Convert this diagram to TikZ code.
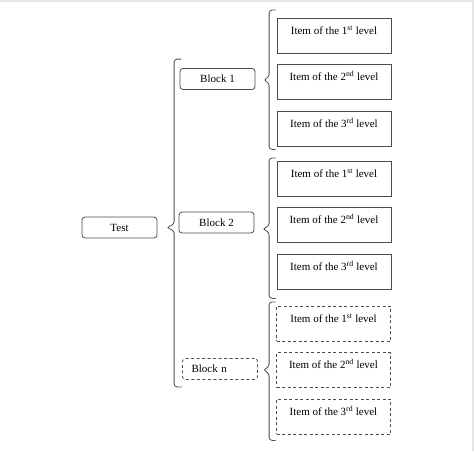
\documentclass[tikz,border=0pt]{standalone}
\usepackage{fontspec}
\setmainfont{Liberation Serif}
\usetikzlibrary{positioning,calc}

\begin{document}
\begin{tikzpicture}[x=1pt, y=-1pt,
  block/.style={draw=black!70, line width=0.8pt, rounded corners=3pt, minimum width=75pt, minimum height=21pt, inner sep=0pt, font=\fontsize{11}{13}\selectfont},
  dblock/.style={block, dash pattern=on 3pt off 2.5pt, align=left, text width=57pt, inner xsep=9pt},
  item/.style={draw=black!70, line width=0.8pt, minimum width=114pt, inner xsep=0pt, inner ysep=3pt, text height=13pt, text depth=16pt, font=\fontsize{11}{13}\selectfont},
  ditem/.style={item, dash pattern=on 3pt off 2.5pt},
  brc/.style={draw=black!70, line width=0.8pt, rounded corners=3pt}
]
\useasboundingbox (0,0) rectangle (474,451);
\fill[black!10] (0,0) rectangle (474,1.5);
\fill[black!10] (472,0) rectangle (474,451);

\node[block] (test) at (119.5,227.5) {Test};

\node[block] (blk1) at (217.5,79) {Block 1};
\node[block] (blk2) at (216.5,222.5) {Block 2};
\node[dblock] (blkn) at (220,369) {Block n};

% first block
\node[item, anchor=north] (i11) at (334,18) {Item of the 1\textsuperscript{st} level};
\node[item, below=10.5pt of i11] (i12) {Item of the 2\textsuperscript{nd} level};
\node[item, below=10.5pt of i12] (i13) {Item of the 3\textsuperscript{rd} level};

% second block
\node[item, anchor=north] (i21) at (334,161) {Item of the 1\textsuperscript{st} level};
\node[item, below=10.5pt of i21] (i22) {Item of the 2\textsuperscript{nd} level};
\node[item, below=10.5pt of i22] (i23) {Item of the 3\textsuperscript{rd} level};

% last block
\node[ditem, anchor=north] (in1) at (333.5,306) {Item of the 1\textsuperscript{st} level};
\node[ditem, below=10.5pt of in1] (in2) {Item of the 2\textsuperscript{nd} level};
\node[ditem, below=10.5pt of in2] (in3) {Item of the 3\textsuperscript{rd} level};

% brace ends and tips
\coordinate (a0) at ($(blk1.north west)+(1.5,-9)$);
\coordinate (b0) at ($(blkn.south west)+(-0.5,7)$);
\coordinate (c0) at ($(test.east)+(9,0)$);
\coordinate (a1) at ($(i11.north west)+(-1,-8)$);
\coordinate (b1) at ($(i13.south west)+(-1,3)$);
\coordinate (c1) at ($(blk1.east)+(8,1)$);
\coordinate (a2) at ($(i21.north west)+(-1,-3)$);
\coordinate (b2) at ($(i23.south west)+(-1,9)$);
\coordinate (c2) at ($(blk2.east)+(8,6.5)$);
\coordinate (a3) at ($(in1.north west)+(-0.5,-4)$);
\coordinate (b3) at ($(in3.south west)+(-0.5,6)$);
\coordinate (c3) at ($(blkn.east)+(5,1)$);

\draw[brc] (a0) -- ++(-7,0) coordinate (v0) -- ($(v0 |- c0)+(0,-3)$) -- (c0) -- ($(v0 |- c0)+(0,3)$) -- (v0 |- b0) -- (b0);
\draw[brc] (a1) -- ++(-6.5,0) coordinate (v1) -- ($(v1 |- c1)+(0,-3)$) -- (c1) -- ($(v1 |- c1)+(0,3)$) -- (v1 |- b1) -- (b1);
\draw[brc] (a2) -- ++(-6.5,0) coordinate (v2) -- ($(v2 |- c2)+(0,-3)$) -- (c2) -- ($(v2 |- c2)+(0,3)$) -- (v2 |- b2) -- (b2);
\draw[brc] (a3) -- ++(-6.5,0) coordinate (v3) -- ($(v3 |- c3)+(0,-3)$) -- (c3) -- ($(v3 |- c3)+(0,3)$) -- (v3 |- b3) -- (b3);

\end{tikzpicture}
\end{document}
